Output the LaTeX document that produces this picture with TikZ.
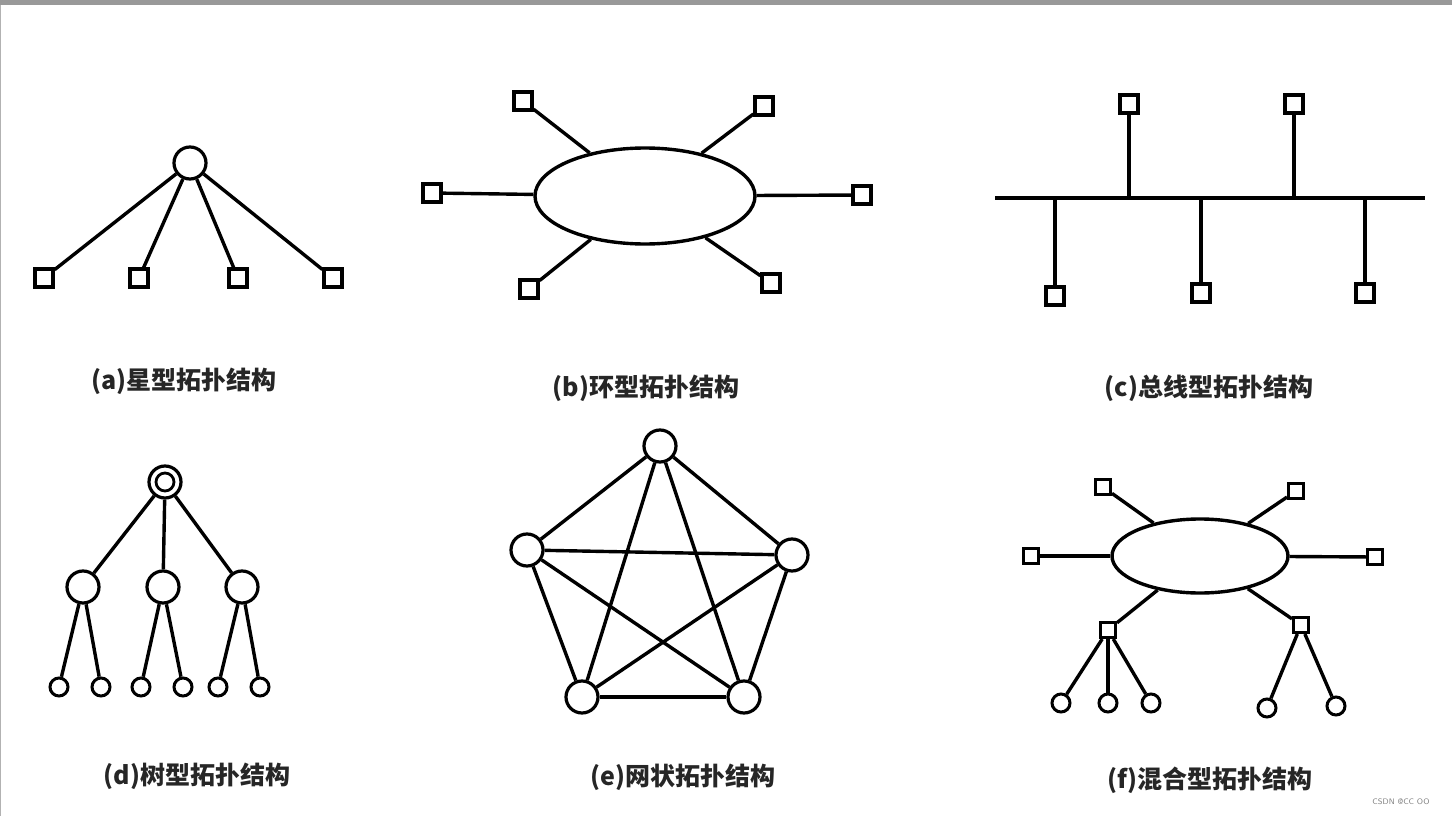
\documentclass[tikz,border=0pt]{standalone}
\usepackage{fontspec}
\newfontfamily\cjk{Noto Sans CJK SC}
\usetikzlibrary{shapes.geometric}
\begin{document}
\begin{tikzpicture}[x=1pt,y=-1pt,
  ln/.style={line width=3.4pt,black},
  sq/.style={draw,line width=3.2pt,rectangle,minimum size=18pt,inner sep=0pt},
  ssq/.style={draw,line width=3pt,rectangle,minimum size=15pt,inner sep=0pt},
  bc/.style={draw,line width=3.2pt,circle,minimum size=32pt,inner sep=0pt},
  sc/.style={draw,line width=3pt,circle,minimum size=18pt,inner sep=0pt},
  el/.style={draw,line width=3.4pt,ellipse,inner sep=0pt},
  lab/.style={font=\cjk\bfseries\fontsize{25}{27}\selectfont,inner sep=0pt,text=black!85}]
\useasboundingbox (0,0) rectangle (1452,816);
\fill[gray!80] (0,0) rectangle (1452,5);
\draw[gray!60,line width=1pt] (0.5,5) -- (0.5,816);
% (a) star
\node[bc] (a0) at (190,163) {};
\foreach \i/\x in {1/44,2/139,3/238,4/333}{
  \node[sq] (a\i) at (\x,278) {};
  \draw[ln] (a0) -- (a\i);}
\node[lab] (la) at (184,381) {(a)星型拓扑结构};
% (b) ring
\node[el,minimum width=220pt,minimum height=96pt] (b0) at (645,196) {};
\foreach \i/\x/\y in {1/523/101,2/764/106,3/432/193,4/862/195,5/529/289,6/771/283}{
  \node[sq] (b\i) at (\x,\y) {};
  \draw[ln] (b\i) -- (b0);}
\node[lab] (lb) at (646,388) {(b)环型拓扑结构};
% (c) bus
\coordinate (cl) at (995,198);
\coordinate (cr) at (1425,198);
\draw[ln] (cl) -- (cr);
\foreach \i/\x/\y in {1/1129/104,2/1294/104,3/1055/296,4/1201/293,5/1365/293}{
  \node[sq] (c\i) at (\x,\y) {};
  \coordinate (t\i) at (\x,198);
  \draw[ln] (c\i) -- (t\i);}
\node[lab] (lc) at (1209,388) {(c)总线型拓扑结构};
% (d) tree
\node[bc] (d0) at (165,482) {};
\node[draw,line width=2.8pt,circle,minimum size=18pt,inner sep=0pt] (d0i) at (165,482) {};
\foreach \i/\x in {1/83,2/163,3/242}{
  \node[bc] (d\i) at (\x,587) {};
  \draw[ln] (d0) -- (d\i);}
\foreach \i/\x/\p in {1/59/1,2/101/1,3/141/2,4/183/2,5/218/3,6/260/3}{
  \node[sc] (e\i) at (\x,687) {};
  \draw[ln] (d\p) -- (e\i);}
\node[lab] (ld) at (197,776) {(d)树型拓扑结构};
% (e) mesh
\node[bc] (m1) at (660,446) {};
\node[bc] (m2) at (527,550) {};
\node[bc] (m3) at (792,555) {};
\node[bc] (m4) at (582,697) {};
\node[bc] (m5) at (744,697) {};
\foreach \a/\b in {1/2,1/3,1/4,1/5,2/3,2/4,2/5,3/4,3/5,4/5}
  \draw[ln] (m\a) -- (m\b);
\node[lab] (le) at (683,777) {(e)网状拓扑结构};
% (f) hybrid
\node[el,minimum width=176pt,minimum height=74pt] (f0) at (1200,556) {};
\foreach \i/\x/\y in {1/1103/487,2/1296/491,3/1031/556,4/1375/557,5/1108/630,6/1301/625}{
  \node[ssq] (f\i) at (\x,\y) {};
  \draw[ln] (f\i) -- (f0);}
\foreach \i/\x/\y/\p in {1/1061/703/5,2/1108/703/5,3/1151/703/5,4/1267/708/6,5/1336/706/6}{
  \node[sc] (g\i) at (\x,\y) {};
  \draw[ln] (f\p) -- (g\i);}
\node[lab] (lf) at (1210,780) {(f)混合型拓扑结构};
\node[font=\sffamily\fontsize{8}{9}\selectfont,text=gray,inner sep=0pt] (wm) at (1401,802) {CSDN @CC OO};
\end{tikzpicture}
\end{document}
